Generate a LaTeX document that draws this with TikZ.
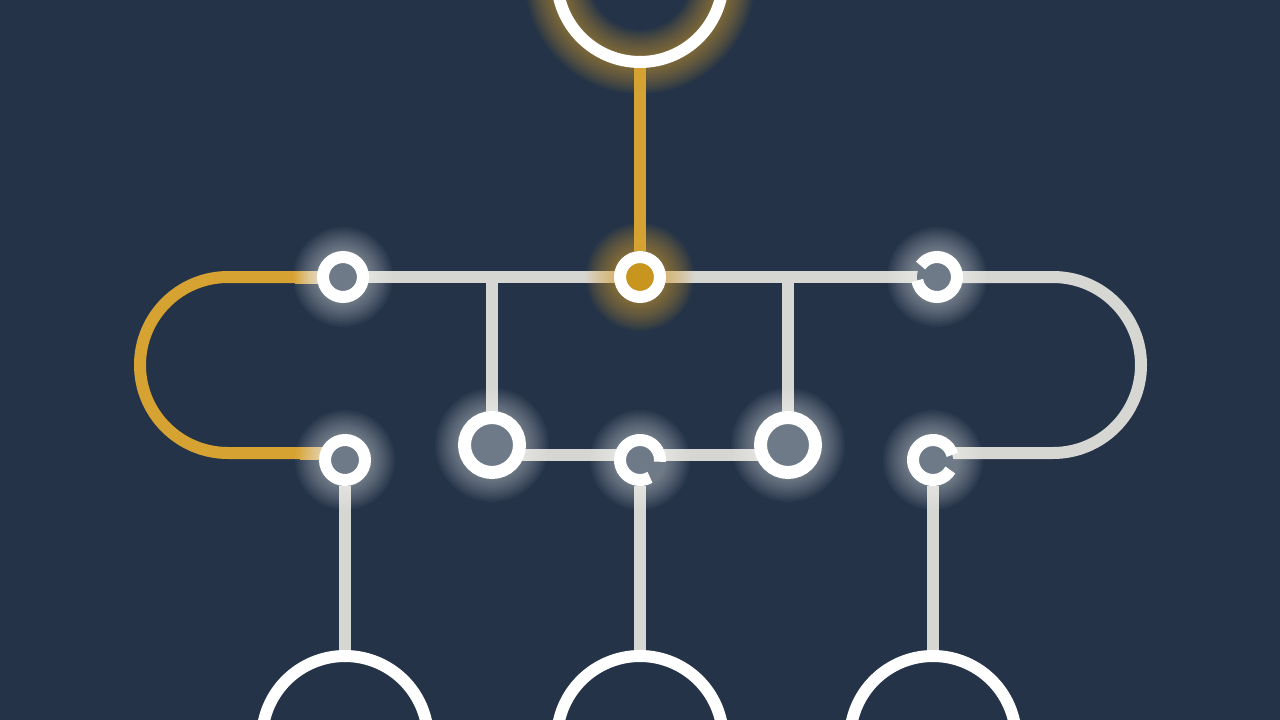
\documentclass[tikz,border=0pt]{standalone}
\definecolor{navy}{HTML}{243348}
\definecolor{wiregrey}{HTML}{D6D7D3}
\definecolor{amber}{HTML}{D6A232}
\definecolor{hubfill}{HTML}{6E7A88}
\definecolor{amberfill}{HTML}{C8961F}
\pgfdeclarelayer{bg}
\pgfdeclarelayer{wires}
\pgfdeclarelayer{halo}
\pgfsetlayers{bg,wires,halo,main}
\tikzset{
  hub/.style={circle, draw=white, line width=12pt, fill=hubfill,
    minimum size=40pt, inner sep=0pt},
  bighub/.style={hub, line width=13pt, minimum size=55pt},
  leaf/.style={circle, draw=white, line width=12pt, minimum size=166pt, inner sep=0pt},
  wire/.style={draw=wiregrey, line width=12pt},
  goldwire/.style={wire, draw=amber},
  ring/.style={draw=white, line width=12pt}
}

\begin{document}
\begin{tikzpicture}[x=1pt, y=-1pt]
  \useasboundingbox (0,0) rectangle (1280,720);

  \node[leaf] (root) at (640,-21) {};
  \node[hub] (a) at (343,277) {};
  \node[hub, fill=amberfill] (b) at (640,277) {};
  \node[hub, draw=none] (c) at (937,277) {};
  \node[hub] (d) at (345,460) {};
  \node[bighub] (e) at (492,445) {};
  \node[hub, draw=none] (f) at (640,460) {};
  \node[bighub] (g) at (788,445) {};
  \node[hub, draw=none] (h) at (933,460) {};
  \node[leaf] (l1) at (345,739) {};
  \node[leaf] (l2) at (640,739) {};
  \node[leaf] (l3) at (933,739) {};

  % rings still being drawn
  \draw[ring] (c.center) ++(215:20) arc[start angle=215, end angle=530, radius=20];
  \draw[ring] (f.center) ++(60:20) arc[start angle=60, end angle=365, radius=20];
  \draw[ring] (h.center) ++(30:20) arc[start angle=30, end angle=345, radius=20];

  \begin{pgfonlayer}{bg}
    \fill[navy] (0,0) rectangle (1280,720);
  \end{pgfonlayer}

  \begin{pgfonlayer}{wires}
    \draw[wire] (a.center) -- (c.center);
    \draw[goldwire] (root) -- (b);
    \draw[goldwire] (a.center) -- ++(-115,0)
      arc[start angle=-90, end angle=-270, radius=88] -- (d.center |- 0,453);
    \shade[left color=amber, right color=wiregrey] (295,271) rectangle (330,283);
    \shade[left color=amber, right color=wiregrey!70!amber] (300,447) rectangle (335,459);
    \draw[wire] (c.center) -- ++(116,0)
      arc[start angle=-90, end angle=90, radius=88] -- (h.center |- 0,453);
    \draw[wire] (e.center) -- (e.center |- a.center);
    \draw[wire] (g.center) -- (g.center |- a.center);
    \draw[wire] (e.center |- 0,455) -- (g.center |- 0,455);
    \draw[wire] (d) -- (l1);
    \draw[wire] (f) -- (l2);
    \draw[wire] (h) -- (l3);
  \end{pgfonlayer}

  \begin{pgfonlayer}{halo}
    \foreach \n in {a,c,d,f,h}
      \foreach \r in {26,28,...,50}
        \fill[white, opacity=.035] (\n) circle (\r);
    \foreach \n in {e,g}
      \foreach \r in {33,35,...,57}
        \fill[white, opacity=.035] (\n) circle (\r);
    \foreach \r in {26,28,...,54}
      \fill[amber, opacity=.05] (b) circle (\r);
    \foreach \w in {12,16,...,64}
      \draw[amber, opacity=.05, line width=\w] (root) circle (83);
  \end{pgfonlayer}
\end{tikzpicture}
\end{document}
